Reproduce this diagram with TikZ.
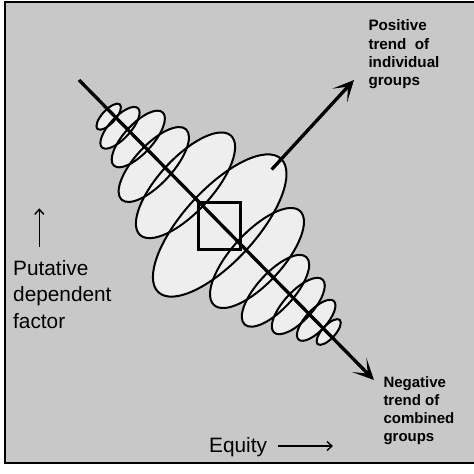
\documentclass[tikz,border=0pt]{standalone}
\usepackage{fontspec}
\setmainfont{Liberation Sans}
\usetikzlibrary{arrows.meta}
\definecolor{bggray}{RGB}{200,200,200}
\definecolor{ellfill}{RGB}{238,238,238}
\tikzset{
  ellshape/.style={line width=2pt, draw=black},
  mainarrow/.style={line width=3.3pt, -{Stealth[length=21pt,width=20pt,inset=12pt]}},
  thinarrow/.style={line width=1.4pt, -{Straight Barb[length=5pt,width=9pt,line width=1.4pt]}},
  boldlabel/.style={font=\fontsize{15.2}{18.4}\selectfont\bfseries, align=left, inner sep=0pt, anchor=base west},
  biglabel/.style={font=\fontsize{20.8}{26.5}\selectfont, align=left, inner sep=0pt, anchor=base west},
}
\begin{document}
\begin{tikzpicture}[x=1pt,y=1pt]
\useasboundingbox (0,0) rectangle (474,-474);
\fill[white] (0,0) rectangle (474,-474);
\fill[bggray] (5,-1) rectangle (474,-463);
\draw[line width=2pt] (474,-1.5) -- (5,-1.5) -- (5,-463) -- (474,-463);
% ellipses: fills first, then outlines
\def\elllist{108.7/116.7/16.6/6.7, 120/127.8/26.6/10.6, 138.3/139/36.1/14.4, 153.8/164.5/47.7/19.1, 185.5/185.3/67.3/26.9, 219.7/225.5/90.6/36.2, 257/258/63.7/25.5, 275.5/290.8/45.7/18.3, 298.3/306/35.9/14.4, 316.2/320.3/26.1/10.5, 328.7/332/16.4/6.6}
\foreach \cx/\cy/\ra/\rb in \elllist {
  \fill[ellfill, rotate around={47.5:(\cx,-\cy)}] (\cx,-\cy) ellipse [x radius=\ra pt, y radius=\rb pt];
}
\foreach \cx/\cy/\ra/\rb in \elllist {
  \draw[ellshape, rotate around={47.5:(\cx,-\cy)}] (\cx,-\cy) ellipse [x radius=\ra pt, y radius=\rb pt];
}
% square
\node[draw, line width=3pt, minimum width=42pt, minimum height=47pt, inner sep=0pt] (sq) at (219.8,-226) {};
% main arrows
\coordinate (mS) at (79,-80);
\coordinate (mE) at (374,-380);
\draw[mainarrow] (mS) -- (mE);
\coordinate (pS) at (271.7,-169.5);
\coordinate (pE) at (354,-80);
\draw[mainarrow] (pS) -- (pE);
% labels (anchor = baseline of last line)
\node[boldlabel] (pos) at (368.3,-85.9) {Positive\\trend\ \ of\\individual\\groups};
\node[boldlabel, font=\fontsize{15}{18.2}\selectfont\bfseries] (neg) at (383.3,-441.9) {Negative\\trend of\\combined\\groups};
\node[biglabel] (put) at (13,-328) {Putative\\dependent\\factor};
\node[biglabel] (eq) at (209,-452) {Equity};
% axis arrows
\coordinate (uS) at (39.3,-246.7);
\coordinate (uE) at (39.3,-208.3);
\draw[thinarrow] (uS) -- (uE);
\coordinate (eS) at (278,-446);
\coordinate (eE) at (333,-446);
\draw[thinarrow] (eS) -- (eE);
\end{tikzpicture}
\end{document}
